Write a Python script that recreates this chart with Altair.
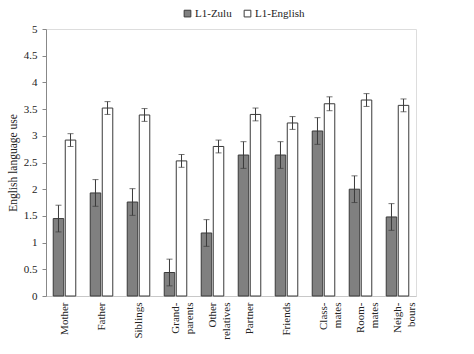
import altair as alt
import pandas as pd

categories = ["Mother", "Father", "Siblings", "Grand-|parents", "Other|relatives",
              "Partner", "Friends", "Class-|mates", "Room-|mates", "Neigh-|bours"]
groups = ["L1-Zulu", "L1-English"]
zulu = [1.45, 1.93, 1.76, 0.44, 1.18, 2.64, 2.64, 3.09, 2.00, 1.48]
zulu_err = [0.25, 0.25, 0.25, 0.25, 0.25, 0.25, 0.25, 0.25, 0.25, 0.25]
english = [2.92, 3.52, 3.39, 2.53, 2.80, 3.40, 3.24, 3.60, 3.67, 3.57]
english_err = [0.12, 0.12, 0.12, 0.12, 0.12, 0.12, 0.12, 0.13, 0.12, 0.12]
y_ticks = [0, 0.5, 1, 1.5, 2, 2.5, 3, 3.5, 4, 4.5, 5]

rows = []
for i, c in enumerate(categories):
    rows.append({"cat": c, "grp": groups[0], "v": zulu[i], "lo": zulu[i] - zulu_err[i], "hi": zulu[i] + zulu_err[i]})
    rows.append({"cat": c, "grp": groups[1], "v": english[i], "lo": english[i] - english_err[i], "hi": english[i] + english_err[i]})
df = pd.DataFrame(rows)

FONT = "'Liberation Serif', 'Times New Roman', serif"
INK = "#3a3a3a"

yaxis = alt.Axis(title="English language use", values=y_ticks,
                 format=".1~f", labelOverlap=False, tickCount=11,
                 grid=False, tickSize=4, tickColor="#888",
                 domainColor="#888", labelFont=FONT, labelFontSize=11,
                 labelColor="#222", labelPadding=5,
                 titleFont=FONT, titleFontSize=11.5, titleFontWeight="normal",
                 titleColor="#222", titlePadding=5)
yscale = alt.Scale(domain=[0, 5], nice=False)

xenc = alt.X("cat:N", sort=categories,
             scale=alt.Scale(paddingInner=0, paddingOuter=0),
             axis=alt.Axis(title=None, labelAngle=270, ticks=False,
                           labelExpr="split(datum.label, '|')",
                           labelFont=FONT, labelFontSize=11, labelColor="#222",
                           labelPadding=6, labelLineHeight=14,
                           domainColor="#c8c8c8"))
xoff = alt.XOffset("grp:N", sort=groups,
                   scale=alt.Scale(paddingInner=0.125, paddingOuter=0.6))

base = alt.Chart(df)

bars = base.mark_bar(stroke=INK, strokeWidth=1).encode(
    x=xenc, xOffset=xoff,
    y=alt.Y("v:Q", scale=yscale, axis=yaxis),
    color=alt.Color("grp:N", sort=groups,
                    scale=alt.Scale(domain=groups, range=["#808080", "#ffffff"]),
                    legend=alt.Legend(title=None, orient="none", direction="horizontal",
                                      legendX=136, legendY=-21,
                                      symbolType="square", symbolSize=45,
                                      symbolStrokeColor=INK, symbolStrokeWidth=1,
                                      symbolOpacity=1, labelFont=FONT, labelFontSize=11,
                                      labelColor="#222", columnPadding=10, labelOffset=2)),
)

rule = base.mark_rule(color=INK, strokeWidth=1).encode(
    x=xenc, xOffset=xoff, y=alt.Y("lo:Q", scale=yscale, axis=yaxis), y2="hi:Q")
cap_lo = base.mark_tick(color=INK, size=6, thickness=1).encode(
    x=xenc, xOffset=xoff, y=alt.Y("lo:Q", scale=yscale, axis=yaxis))
cap_hi = base.mark_tick(color=INK, size=6, thickness=1).encode(
    x=xenc, xOffset=xoff, y=alt.Y("hi:Q", scale=yscale, axis=yaxis))

chart = alt.layer(bars, rule, cap_lo, cap_hi).properties(
    width=370, height=267,
    autosize=alt.AutoSizeParams(type="none"),
    padding={"left": 46, "top": 29, "right": 58, "bottom": 58},
).configure_view(stroke=None).configure(background="white")

chart.save("out.html", embed_options={"renderer": "svg", "actions": False})
